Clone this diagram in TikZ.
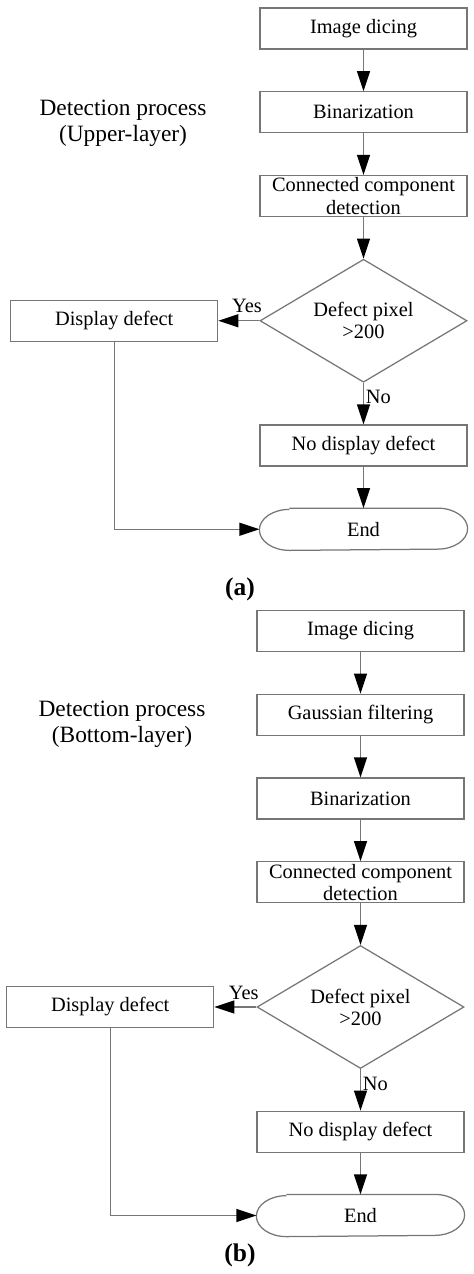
\documentclass[tikz,border=0pt]{standalone}
\usepackage{fontspec}
\setmainfont{Liberation Serif}
\usetikzlibrary{arrows.meta, positioning, shapes.geometric}
\definecolor{linegray}{RGB}{118, 118, 118}
% stadium outline with elliptic ends round a node
\newcommand{\stadium}[1]{
    \draw[linegray] ([xshift=0.6cm]#1.north west) -- ([xshift=-0.6cm]#1.north east)
        arc[start angle=90, end angle=-90, x radius=0.6cm, y radius=0.41cm]
        -- ([xshift=0.6cm]#1.south west)
        arc[start angle=270, end angle=90, x radius=0.6cm, y radius=0.41cm];
}

\begin{document}
\begin{tikzpicture}[
                > = {Triangle[width=0.26cm, length=0.4cm, color=black]}, % arrow head style
                node distance = 0.83cm, % distance between nodes
                line width=0.25mm, % line style
                font=\fontsize{11.6}{12.6}\selectfont,
                every edge/.style={draw=linegray},
                process/.style={draw=linegray, minimum width=4.14cm,
                    minimum height=0.82cm, align=center, inner sep=1pt},
                decision/.style={diamond, draw=linegray, aspect=1.68,
                    minimum width=4.14cm, minimum height=2.46cm,
                    align=center, inner sep=0pt},
                terminal/.style={process, draw=none},
                title/.style={align=center, font=\fontsize{13.3}{15}\selectfont},
                caption/.style={font=\fontsize{14.5}{16}\selectfont\bfseries}
                ]
                \useasboundingbox (0,0) rectangle (9.48,-25.48);

                % (a) upper layer
                \node[process] (imgA) at (7.27,-0.57) {Image dicing};
                \node[process] (binA) [below=of imgA] {Binarization};
                \node[process] (conA) [below=of binA] {Connected component\\detection};
                \node[decision] (decA) [below=of conA] {Defect pixel\\>200};
                \node[process] (nodA) [below=of decA] {No display defect};
                \node[terminal] (endA) [below=of nodA] {End};
                \stadium{endA}
                \node[process] (disA) [left=0.82cm of decA] {Display defect};
                \node[title] (titA) at (2.46,-2.46) {Detection process\\(Upper-layer)};
                \node[caption] (capA) at (4.8,-11.78) {(a)};

                \path[->] (imgA) edge (binA)
                          (binA) edge (conA)
                          (conA) edge (decA)
                          (nodA) edge (endA);
                \path[->] (decA) edge
                node[above=2pt, pos=0.3, inner sep=2pt] {Yes} (disA);
                \path[->] (decA) edge
                node[right, pos=0.35, inner sep=1pt] {No} (nodA);
                \draw[->, draw=linegray] (disA) |- (endA);

                % (b) bottom layer
                \node[process] (imgB) at (7.21,-12.62) {Image dicing};
                \node[process] (gauB) [below=of imgB] {Gaussian filtering};
                \node[process] (binB) [below=of gauB] {Binarization};
                \node[process] (conB) [below=of binB] {Connected component\\detection};
                \node[decision] (decB) [below=of conB] {Defect pixel\\>200};
                \node[process] (nodB) [below=of decB] {No display defect};
                \node[terminal] (endB) [below=of nodB] {End};
                \stadium{endB}
                \node[process] (disB) [left=0.84cm of decB] {Display defect};
                \node[title] (titB) at (2.44,-14.48) {Detection process\\(Bottom-layer)};
                \node[caption] (capB) at (4.8,-25.1) {(b)};

                \path[->] (imgB) edge (gauB)
                          (gauB) edge (binB)
                          (binB) edge (conB)
                          (conB) edge (decB)
                          (nodB) edge (endB);
                \path[->] (decB) edge
                node[above=2pt, pos=0.3, inner sep=2pt] {Yes} (disB);
                \path[->] (decB) edge
                node[right, pos=0.35, inner sep=1pt] {No} (nodB);
                \draw[->, draw=linegray] (disB) |- (endB);
            \end{tikzpicture}
\end{document}
